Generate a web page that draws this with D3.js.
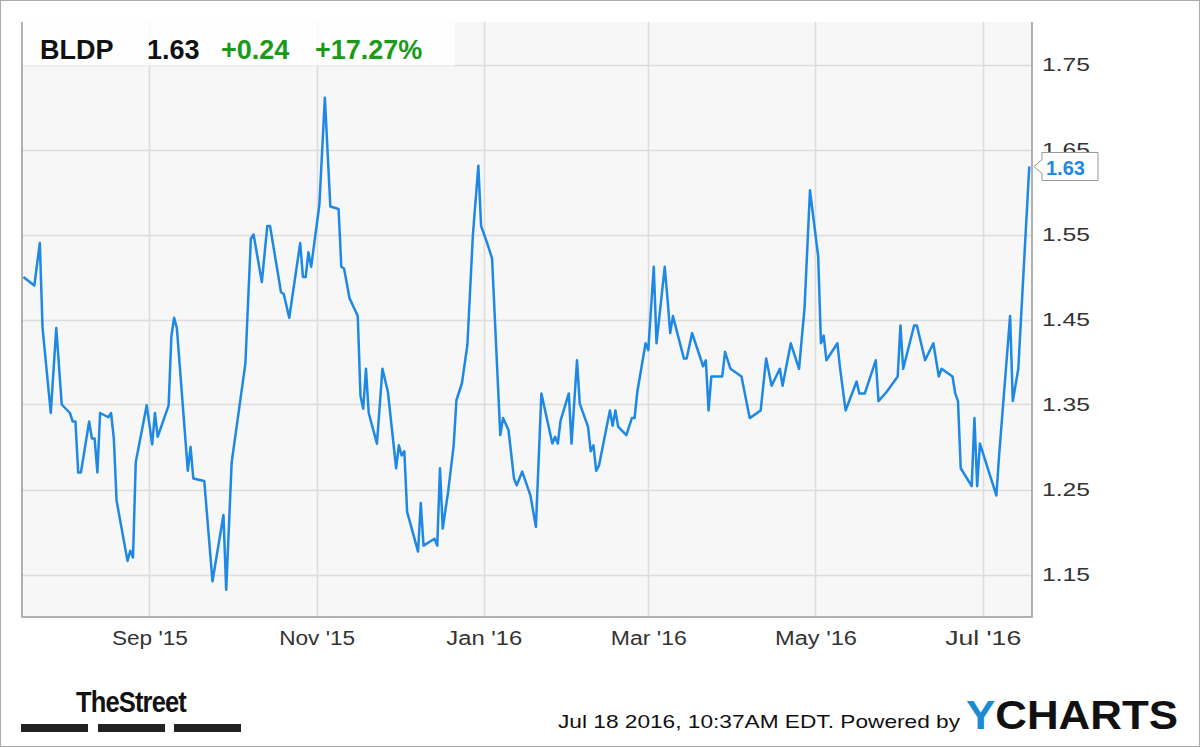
<!DOCTYPE html>
<html><head><meta charset="utf-8">
<script src="https://cdn.jsdelivr.net/npm/d3@7/dist/d3.min.js"></script>
<style>body{margin:0;background:#fff;font-family:"Liberation Sans",Arial,sans-serif}</style>
</head><body><svg id="c" width="1200" height="747"></svg>
<script>
const dates = ["2015-07-17","2015-07-21","2015-07-23","2015-07-24","2015-07-27","2015-07-29","2015-07-31","2015-08-03","2015-08-04","2015-08-05","2015-08-06","2015-08-07","2015-08-10","2015-08-11","2015-08-12","2015-08-13","2015-08-14","2015-08-17","2015-08-18","2015-08-19","2015-08-20","2015-08-24","2015-08-25","2015-08-26","2015-08-27","2015-08-31","2015-09-02","2015-09-03","2015-09-04","2015-09-08","2015-09-09","2015-09-10","2015-09-11","2015-09-15","2015-09-16","2015-09-17","2015-09-21","2015-09-24","2015-09-28","2015-09-29","2015-10-01","2015-10-06","2015-10-08","2015-10-09","2015-10-12","2015-10-14","2015-10-15","2015-10-19","2015-10-20","2015-10-22","2015-10-26","2015-10-27","2015-10-28","2015-10-29","2015-10-30","2015-11-02","2015-11-04","2015-11-06","2015-11-09","2015-11-10","2015-11-11","2015-11-13","2015-11-16","2015-11-17","2015-11-18","2015-11-19","2015-11-20","2015-11-23","2015-11-25","2015-11-27","2015-11-30","2015-12-01","2015-12-02","2015-12-03","2015-12-04","2015-12-08","2015-12-09","2015-12-10","2015-12-14","2015-12-15","2015-12-16","2015-12-17","2015-12-19","2015-12-21","2015-12-22","2015-12-24","2015-12-26","2015-12-28","2015-12-30","2015-12-31","2016-01-02","2016-01-04","2016-01-07","2016-01-08","2016-01-10","2016-01-12","2016-01-13","2016-01-15","2016-01-18","2016-01-20","2016-01-22","2016-01-26","2016-01-27","2016-01-28","2016-01-29","2016-02-01","2016-02-02","2016-02-04","2016-02-05","2016-02-08","2016-02-09","2016-02-10","2016-02-11","2016-02-12","2016-02-16","2016-02-17","2016-02-18","2016-02-19","2016-02-22","2016-02-24","2016-02-25","2016-02-26","2016-02-29","2016-03-01","2016-03-03","2016-03-04","2016-03-07","2016-03-08","2016-03-09","2016-03-10","2016-03-14","2016-03-15","2016-03-17","2016-03-21","2016-03-22","2016-03-23","2016-03-24","2016-03-28","2016-03-29","2016-03-31","2016-04-04","2016-04-07","2016-04-11","2016-04-13","2016-04-15","2016-04-18","2016-04-19","2016-04-22","2016-04-25","2016-04-27","2016-04-29","2016-05-02","2016-05-03","2016-05-04","2016-05-05","2016-05-09","2016-05-10","2016-05-12","2016-05-16","2016-05-17","2016-05-19","2016-05-23","2016-05-24","2016-05-27","2016-05-31","2016-06-01","2016-06-02","2016-06-06","2016-06-07","2016-06-10","2016-06-13","2016-06-15","2016-06-16","2016-06-20","2016-06-21","2016-06-22","2016-06-23","2016-06-27","2016-06-28","2016-06-29","2016-06-30","2016-07-06","2016-07-07","2016-07-11","2016-07-12","2016-07-14","2016-07-18"];
const prices = [1.50,1.49,1.54,1.44,1.34,1.44,1.35,1.34,1.33,1.33,1.27,1.27,1.33,1.31,1.31,1.27,1.34,1.335,1.34,1.31,1.237,1.166,1.178,1.17,1.282,1.349,1.303,1.34,1.312,1.349,1.43,1.452,1.44,1.272,1.30,1.263,1.26,1.142,1.22,1.132,1.282,1.398,1.545,1.55,1.494,1.56,1.56,1.482,1.48,1.452,1.54,1.50,1.50,1.529,1.512,1.585,1.711,1.583,1.58,1.512,1.51,1.475,1.454,1.36,1.345,1.392,1.34,1.304,1.392,1.365,1.275,1.302,1.29,1.295,1.224,1.177,1.234,1.184,1.192,1.184,1.275,1.204,1.248,1.302,1.355,1.375,1.42,1.549,1.631,1.56,1.542,1.522,1.314,1.334,1.32,1.263,1.255,1.271,1.243,1.206,1.363,1.304,1.312,1.304,1.331,1.363,1.304,1.402,1.351,1.324,1.295,1.302,1.272,1.278,1.343,1.325,1.343,1.324,1.314,1.334,1.334,1.365,1.422,1.414,1.512,1.422,1.512,1.475,1.434,1.454,1.404,1.404,1.434,1.395,1.402,1.343,1.383,1.383,1.412,1.392,1.383,1.334,1.343,1.404,1.372,1.392,1.372,1.422,1.392,1.463,1.602,1.524,1.422,1.431,1.402,1.422,1.392,1.343,1.377,1.363,1.363,1.402,1.354,1.365,1.383,1.443,1.392,1.443,1.443,1.402,1.422,1.383,1.392,1.383,1.363,1.354,1.275,1.254,1.334,1.254,1.304,1.243,1.29,1.454,1.354,1.392,1.63];
const yTicks = [1.15,1.25,1.35,1.45,1.55,1.65,1.75];
const xTicks = ["2015-09-01","2015-11-01","2016-01-01","2016-03-01","2016-05-01","2016-07-01"];
const header = {ticker:"BLDP", last:"1.63", chg:"+0.24", pct:"+17.27%"};

const svg = d3.select("#c");
const L=22,R=1032,T=22,B=617;
const parse=d3.timeParse("%Y-%m-%d");
const data=dates.map((d,i)=>({d:parse(d),v:prices[i]}));
const x=d3.scaleTime().domain([new Date(2015,6,16,12),new Date(2016,6,19)]).range([L,R]);
const y=d3.scaleLinear().domain([1.1,1.8]).range([B,T]);
const last=data[data.length-1], ly=y(last.v);

svg.append("rect").attr("x",0.5).attr("y",0.5).attr("width",1199).attr("height",746).attr("fill","#fff").attr("stroke","#aaa");
svg.append("rect").attr("x",L).attr("y",T).attr("width",R-L).attr("height",B-T).attr("fill","#f7f7f7");
svg.append("g").selectAll("line").data(yTicks).join("line")
 .attr("x1",L).attr("x2",R).attr("y1",d=>Math.round(y(d))+0.5).attr("y2",d=>Math.round(y(d))+0.5).attr("stroke","#dcdcdc").attr("stroke-width",1.5);
svg.append("g").selectAll("line").data(xTicks).join("line")
 .attr("y1",T).attr("y2",B).attr("x1",d=>Math.round(x(parse(d)))+0.5).attr("x2",d=>Math.round(x(parse(d)))+0.5).attr("stroke","#dcdcdc").attr("stroke-width",1.5);
svg.append("rect").attr("x",L).attr("y",T).attr("width",433).attr("height",43).attr("fill","#fff").attr("opacity",0.85);
svg.append("line").attr("x1",L).attr("x2",L+433).attr("y1",T+43.5).attr("y2",T+43.5).attr("stroke","#eee");
svg.append("path").attr("d",`M${L},${T}V${B}H${R}V${T}`).attr("fill","none").attr("stroke","#999").attr("stroke-width",1.5);
// the 1.65 label is mostly hidden behind the last-value flag, as in the reference
svg.append("defs").append("clipPath").attr("id","clip165").append("rect")
 .attr("x",0).attr("y",-40).attr("width",200).attr("height",40+(ly-14-y(1.65)));
const ya=d3.axisRight(y).tickValues(yTicks).tickSize(0).tickPadding(10).tickFormat(d3.format(".2f"));
const yg=svg.append("g").attr("transform",`translate(${R},0)`).call(ya).call(g=>g.select(".domain").remove());
yg.selectAll("text").attr("font-size",19).attr("fill","#333").attr("font-family","Liberation Sans, Arial")
 .attr("textLength",48).attr("lengthAdjust","spacingAndGlyphs");
yg.selectAll(".tick").filter(d=>d===1.65).select("text").attr("clip-path","url(#clip165)");
const xa=d3.axisBottom(x).tickValues(xTicks.map(parse)).tickSize(0).tickPadding(14).tickFormat(d3.timeFormat("%b '%y"));
svg.append("g").attr("transform",`translate(0,${B})`).call(xa).call(g=>g.select(".domain").remove())
 .selectAll("text").attr("font-size",20).attr("fill","#333").attr("font-family","Liberation Sans, Arial")
 .attr("textLength",d=>d3.timeFormat("%b")(d)==="May"?82:76).attr("lengthAdjust","spacingAndGlyphs");
svg.append("path").datum(data).attr("d",d3.line().x(d=>x(d.d)).y(d=>y(d.v)))
 .attr("fill","none").attr("stroke","#1e88e5").attr("stroke-width",2.5).attr("stroke-linejoin","round");
svg.append("path").attr("d",`M${R+2},${ly}L${R+10},${ly-7}V${ly-14}H${R+66}V${ly+14}H${R+10}V${ly+7}Z`)
 .attr("fill","#fff").attr("stroke","#999");
svg.append("text").attr("x",R+14).attr("y",ly+8).text(last.v.toFixed(2)).attr("font-size",20).attr("font-weight","bold").attr("fill","#1e88e5");
const ht=svg.append("text").attr("y",59).attr("font-size",27).attr("font-weight","bold");
ht.append("tspan").attr("x",40).attr("fill","#111").text(header.ticker);
ht.append("tspan").attr("x",147).attr("fill","#111").text(header.last);
ht.append("tspan").attr("x",221).attr("fill","#1a9a1a").text(header.chg);
ht.append("tspan").attr("x",315).attr("fill","#1a9a1a").text(header.pct);
svg.append("text").attr("x",76).attr("y",712).attr("font-size",30).attr("font-weight","bold").attr("fill","#111")
 .attr("textLength",110).attr("lengthAdjust","spacingAndGlyphs").attr("letter-spacing",-1).text("TheStreet");
svg.append("g").selectAll("rect").data([21,98,174]).join("rect").attr("x",d=>d).attr("y",724).attr("width",67).attr("height",8).attr("fill","#222");
svg.append("text").attr("x",558).attr("y",728).attr("font-size",19).attr("fill","#111").attr("textLength",402).attr("lengthAdjust","spacingAndGlyphs").text("Jul 18 2016, 10:37AM EDT.  Powered by");
const yc=svg.append("text").attr("x",966).attr("y",729).attr("font-size",40).attr("font-weight","bold").attr("textLength",212).attr("lengthAdjust","spacingAndGlyphs");
yc.append("tspan").attr("fill","#1a8ad5").text("Y");
yc.append("tspan").attr("fill","#111").text("CHARTS");
</script></body></html>
